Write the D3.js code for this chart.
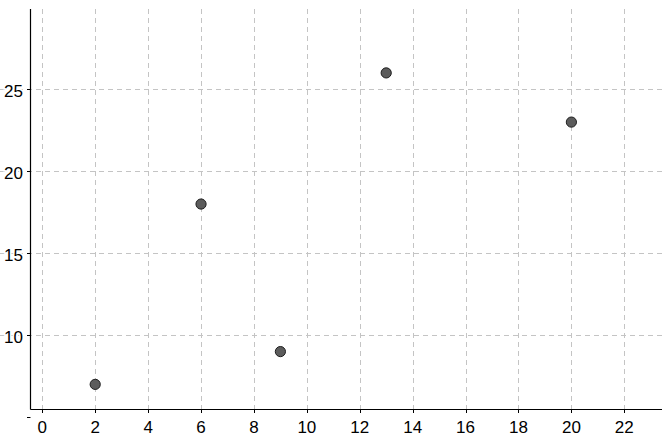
<!DOCTYPE html>
<html>
<head>
<meta charset="utf-8">
<script src="https://cdn.jsdelivr.net/npm/d3@7"></script>
<style>
  html, body { margin: 0; padding: 0; background: #fff; }
  svg { display: block; }
  text { font-family: "Liberation Sans", Arial, sans-serif; font-size: 17px; fill: #000; }
</style>
</head>
<body>
<svg id="chart" width="662" height="445"></svg>
<script>
// ---- data ----
const pointsX = [2, 6, 9, 13, 20];
const pointsY = [7, 18, 9, 26, 23];
const xTickValues = [0, 2, 4, 6, 8, 10, 12, 14, 16, 18, 20, 22];
const yTickValues = [10, 15, 20, 25];
const yTickMarksOnly = [5];

// ---- layout ----
const W = 662, H = 445;
const axisX = 30.5;      // y-axis pixel position
const axisY = 409.5;     // x-axis pixel position
const topY = 9;

const x = d3.scaleLinear().domain([0, 22]).range([42.3, 624.3]);
const y = d3.scaleLinear().domain([10, 25]).range([335.2, 89.3]);

const svg = d3.select("#chart");

// gridlines
const grid = svg.append("g")
  .attr("stroke", "#c4c4c4")
  .attr("stroke-width", 1)
  .attr("stroke-dasharray", "5,4");

grid.selectAll("line.v").data(xTickValues).join("line")
  .attr("class", "v")
  .attr("x1", d => Math.round(x(d)) + 0.5).attr("x2", d => Math.round(x(d)) + 0.5)
  .attr("y1", topY).attr("y2", axisY);

grid.selectAll("line.h").data(yTickValues).join("line")
  .attr("class", "h")
  .attr("x1", 0).attr("x2", W)
  .attr("y1", d => Math.round(y(d)) + 0.5).attr("y2", d => Math.round(y(d)) + 0.5);

// y tick labels with white halo
svg.append("g").selectAll("text").data(yTickValues).join("text")
  .attr("x", 23)
  .attr("y", d => Math.round(y(d)) + 8)
  .attr("text-anchor", "end")
  .attr("stroke", "#fff").attr("stroke-width", 3).attr("paint-order", "stroke")
  .text(d => d);

// axes lines
svg.append("line")
  .attr("x1", axisX).attr("x2", axisX)
  .attr("y1", topY).attr("y2", axisY)
  .attr("stroke", "#000").attr("stroke-width", 1.2);
svg.append("line")
  .attr("x1", axisX).attr("x2", W)
  .attr("y1", axisY).attr("y2", axisY)
  .attr("stroke", "#000").attr("stroke-width", 1.2);

// x ticks
svg.append("g").selectAll("line").data(xTickValues).join("line")
  .attr("x1", d => Math.round(x(d)) + 0.5).attr("x2", d => Math.round(x(d)) + 0.5)
  .attr("y1", axisY).attr("y2", axisY + 3.5)
  .attr("stroke", "#000").attr("stroke-width", 1);

// y ticks (including hidden-label tick)
svg.append("g").selectAll("line").data(yTickValues.concat(yTickMarksOnly)).join("line")
  .attr("x1", axisX - 3.5).attr("x2", axisX)
  .attr("y1", d => Math.round(y(d)) + 0.5).attr("y2", d => Math.round(y(d)) + 0.5)
  .attr("stroke", "#000").attr("stroke-width", 1);

// x tick labels
svg.append("g").selectAll("text").data(xTickValues).join("text")
  .attr("x", d => x(d))
  .attr("y", axisY + 23.5)
  .attr("text-anchor", "middle")
  .text(d => d);

// points
const pts = pointsX.map((v, i) => ({ x: v, y: pointsY[i] }));
svg.append("g").selectAll("circle").data(pts).join("circle")
  .attr("cx", d => x(d.x))
  .attr("cy", d => y(d.y))
  .attr("r", 5.1)
  .attr("fill", "#5c5c5c")
  .attr("stroke", "#1e1e1e")
  .attr("stroke-width", 1);
</script>
</body>
</html>
